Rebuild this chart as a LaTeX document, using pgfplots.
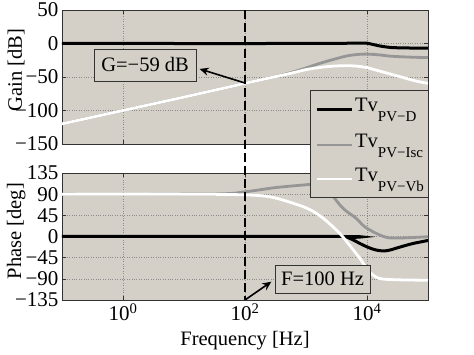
\documentclass[border=0pt]{standalone}
\usepackage{pgfplots}
\pgfplotsset{compat=1.18}
\usetikzlibrary{arrows.meta}
\usepackage{fontspec}
\setmainfont{Liberation Serif}
\definecolor{bgc}{RGB}{212,208,200}
\definecolor{grayline}{RGB}{150,150,150}
\definecolor{gridc}{RGB}{140,140,140}
\definecolor{framec}{RGB}{50,50,50}
\newcommand{\lsub}[1]{\raisebox{-10pt}{\fontsize{15}{15}\selectfont #1}}
\begin{document}
\begin{tikzpicture}
\useasboundingbox (-62pt,-55pt) rectangle (412pt,300pt);
% ---------------- Gain ----------------
\begin{semilogxaxis}[at={(0,156pt)}, height=134pt,
  scale only axis, width=366pt, xmin=0.1, xmax=100000,
  axis background/.style={fill=bgc},
  axis line style={framec, line width=0.8pt},
  xtick={1,100,10000}, minor xtick={},
  grid=major, major grid style={dotted, color=gridc, line width=0.6pt},
  tick style={framec, line width=0.6pt}, major tick length=4pt, tick align=inside,
  tick label style={font=\fontsize{21}{23}\selectfont},
  label style={font=\fontsize{20.5}{23}\selectfont},
  ymin=-150, ymax=50, ytick={-150,-100,-50,0,50},
  yticklabels={−150,−100,−50,0,50}, xticklabels={},
  ylabel={Gain [dB]},
  ylabel style={at={(axis description cs:-0.125,0.552)}, anchor=center}]
\addplot[black, smooth, line width=3pt] coordinates {
 (0.1,0) (1000,0) (3162,0.2) (7943,0.6) (10000,0.4) (12589,-1.5) (15849,-3.5)
 (19953,-5) (25119,-6) (31623,-6.4) (56234,-6.8) (100000,-7)};
\addplot[grayline, smooth, line width=2.8pt] coordinates {
 (0.1,-120) (1,-100) (10,-80) (100,-59.5) (316.2,-49.4) (562.3,-43.5) (1000,-36.5)
 (1778,-29) (3162,-22.5) (5012,-18) (7943,-16) (10000,-15.8) (15849,-17)
 (25119,-19) (56234,-20.5) (100000,-21)};
\addplot[white, smooth, line width=2.8pt] coordinates {
 (0.1,-120) (1,-100) (10,-80) (100,-59.5) (316.2,-49.5) (562.3,-44.5) (1000,-39)
 (1778,-35.5) (3162,-33.5) (5623,-33.3) (7943,-34.5) (10000,-36) (15849,-41)
 (25119,-46) (39811,-51) (63096,-56) (100000,-59.5)};
\coordinate (dtop) at (axis cs:100,50);
\node[fill=bgc, draw=framec, line width=0.8pt, minimum width=102pt, minimum height=32pt,
  inner sep=0pt, font=\fontsize{20.5}{23}\selectfont] at (rel axis cs:0.227,0.59) {G=−59 dB};
\draw[-{Stealth[length=9pt,width=8pt]}, line width=1.6pt] (axis cs:100,-59) -- (rel axis cs:0.376,0.56);
\end{semilogxaxis}
% ---------------- Phase ----------------
\begin{semilogxaxis}[at={(0,0)}, height=127pt,
  scale only axis, width=366pt, xmin=0.1, xmax=100000,
  axis background/.style={fill=bgc},
  axis line style={framec, line width=0.8pt},
  xtick={1,100,10000}, minor xtick={},
  grid=major, major grid style={dotted, color=gridc, line width=0.6pt},
  tick style={framec, line width=0.6pt}, major tick length=4pt, tick align=inside,
  tick label style={font=\fontsize{21}{23}\selectfont},
  label style={font=\fontsize{20.5}{23}\selectfont},
  ymin=-135, ymax=135, ytick={-135,-90,-45,0,45,90,135},
  yticklabels={−135,−90,−45,0,45,90,135},
  xticklabels={10\textsuperscript{0},10\textsuperscript{2},10\textsuperscript{4}},
  xlabel={Frequency [Hz]},
  xlabel style={at={(axis description cs:0.5,-0.32)}, anchor=center},
  ylabel={Phase [deg]},
  ylabel style={at={(axis description cs:-0.125,0.543)}, anchor=center}]
\addplot[black, smooth, line width=3pt] coordinates {
 (0.1,0) (3981,0) (5012,-3) (6310,-9) (7943,-16) (10000,-22) (12589,-27)
 (15849,-30) (19953,-30.5) (25119,-28) (31623,-24) (56234,-15) (100000,-8.5)};
\addplot[grayline, smooth, line width=2.8pt] coordinates {
 (0.1,90) (31.62,90.5) (100,95) (316.2,104) (1000,110) (1259,111) (1778,108)
 (2512,92) (3548,68) (4467,55) (6607,39) (8913,22) (12589,10) (17783,1)
 (23442,-3) (39811,-3) (100000,-0.5)};
\addplot[white, smooth, line width=2.8pt] coordinates {
 (0.1,90) (10,90) (100,88.5) (288,83) (1000,61) (1905,39) (3548,7) (5129,-18)
 (7586,-46) (10965,-75) (15849,-89) (30200,-92) (100000,-93)};
\coordinate (dbot) at (axis cs:100,-135);
\node[fill=bgc, draw=framec, line width=0.8pt, minimum width=95pt, minimum height=28pt,
  inner sep=0pt, font=\fontsize{20.5}{23}\selectfont] at (rel axis cs:0.712,0.165) {F=100 Hz};
\draw[-{Stealth[length=9pt,width=8pt]}, line width=1.6pt] (axis cs:100,-135) -- (rel axis cs:0.572,0.144);
\end{semilogxaxis}
\draw[line width=2.8pt, dash pattern=on 9pt off 4pt] (dtop) -- (dbot);
% ---------------- Legend ----------------
\draw[fill=bgc, draw=framec, line width=0.8pt] (248pt,103pt) rectangle (366pt,210pt);
\draw[black, line width=3pt] (254.7pt,190.7pt) -- (289.7pt,190.7pt);
\draw[grayline, line width=2.8pt] (254.7pt,155pt) -- (289.7pt,155pt);
\draw[white, line width=2.8pt] (254.7pt,121pt) -- (289.7pt,121pt);
\node[anchor=base west, inner sep=0pt, font=\fontsize{20.5}{23}\selectfont] at (293pt,188.3pt) {Tv\lsub{PV−D}};
\node[anchor=base west, inner sep=0pt, font=\fontsize{20.5}{23}\selectfont] at (293pt,152.6pt) {Tv\lsub{PV−Isc}};
\node[anchor=base west, inner sep=0pt, font=\fontsize{20.5}{23}\selectfont] at (293pt,118.2pt) {Tv\lsub{PV−Vb}};
\end{tikzpicture}
\end{document}
